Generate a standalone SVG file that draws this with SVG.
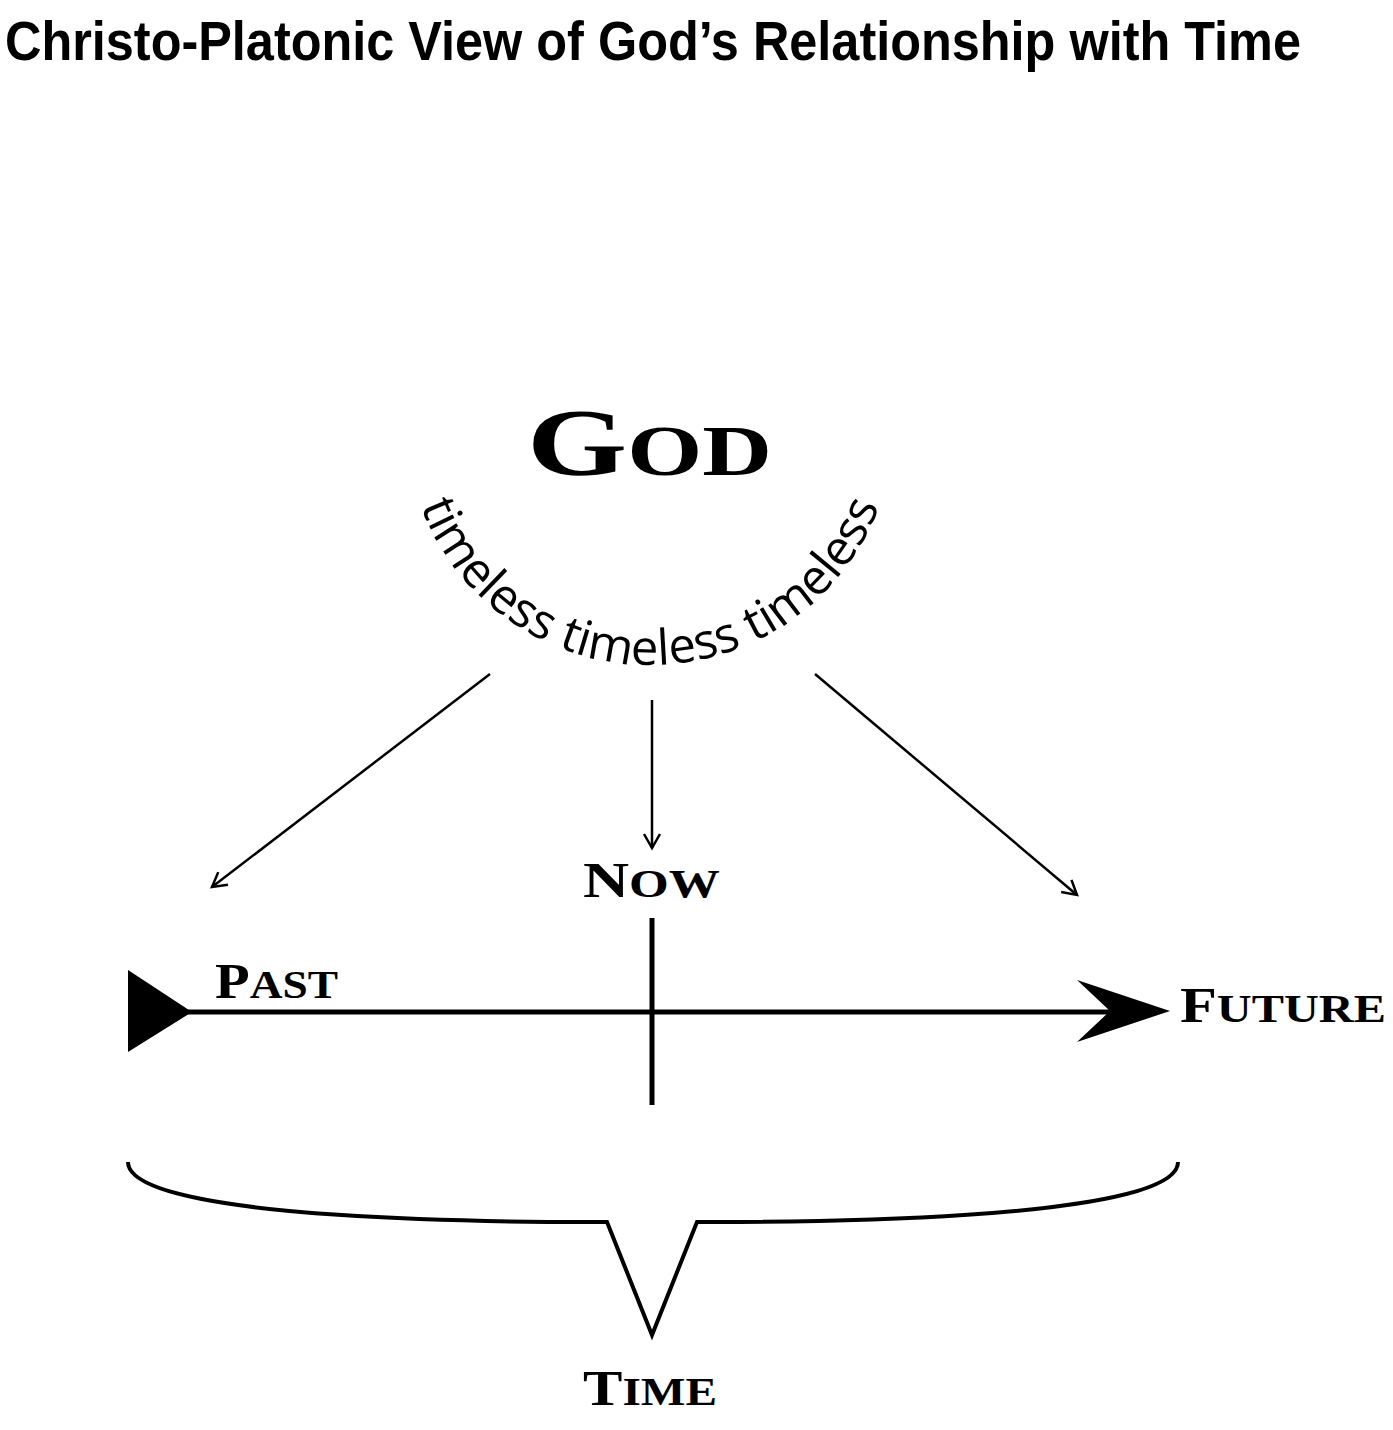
<svg xmlns="http://www.w3.org/2000/svg" width="1393" height="1430" viewBox="0 0 1393 1430">
<style>
.sc{font-family:"Liberation Serif","DejaVu Serif",serif;font-weight:bold;fill:#000}
.ln{stroke:#000;fill:none}
</style>
<defs>
<marker id="ah" markerWidth="20" markerHeight="20" refX="16" refY="10" orient="auto" markerUnits="userSpaceOnUse">
<path d="M2,2 L16,10 L2,18" fill="none" stroke="#000" stroke-width="2.5"/>
</marker>
<path id="arc" d="M 405,420 A 245 245 0 0 0 895,420"/>
</defs>
<rect width="1393" height="1430" fill="#fff"/>
<text x="5" y="60" font-family="'Liberation Sans Narrow','Liberation Sans',sans-serif" font-weight="bold" font-size="56" textLength="1296" lengthAdjust="spacingAndGlyphs">Christo-Platonic View of God’s Relationship with Time</text>
<g id="god"><text class="sc" x="527" y="475" font-size="96" textLength="245" lengthAdjust="spacingAndGlyphs">G<tspan font-size="72">OD</tspan></text></g>
<g id="timeless"><text font-family="'Open Sans','Noto Sans',sans-serif" font-size="49"><textPath href="#arc" startOffset="50%" text-anchor="middle">timeless timeless timeless</textPath></text></g>
<g id="connectors" class="ln" stroke-width="2.5">
<line x1="490" y1="674" x2="212" y2="887" marker-end="url(#ah)"/>
<line x1="652" y1="700" x2="652" y2="848" marker-end="url(#ah)"/>
<line x1="815" y1="674" x2="1077" y2="895" marker-end="url(#ah)"/>
</g>
<g id="now"><text class="sc" x="583" y="897" font-size="50" textLength="137" lengthAdjust="spacingAndGlyphs">N<tspan font-size="40">OW</tspan></text></g>
<g id="timeline">
<line class="ln" x1="185" y1="1012" x2="1120" y2="1012" stroke-width="5"/>
<path d="M128,970 L192,1012 L128,1052 Z" fill="#000"/>
<path d="M1077,980 L1170,1011 L1077,1042 L1110,1011 Z" fill="#000"/>
<line class="ln" x1="652" y1="918" x2="652" y2="1105" stroke-width="5"/>
</g>
<g id="past"><text class="sc" x="215" y="998" font-size="50" textLength="123" lengthAdjust="spacingAndGlyphs">P<tspan font-size="40">AST</tspan></text></g>
<g id="future"><text class="sc" x="1180" y="1022" font-size="50" textLength="206" lengthAdjust="spacingAndGlyphs">F<tspan font-size="40">UTURE</tspan></text></g>
<g id="brace"><path class="ln" stroke-width="4" d="M128,1162 C 128,1225 560,1222 607,1222 L 652,1335 L 697,1222 C 745,1222 1178,1225 1178,1162"/></g>
<g id="time"><text class="sc" x="583" y="1405" font-size="50" textLength="134" lengthAdjust="spacingAndGlyphs">T<tspan font-size="40">IME</tspan></text></g>
</svg>
